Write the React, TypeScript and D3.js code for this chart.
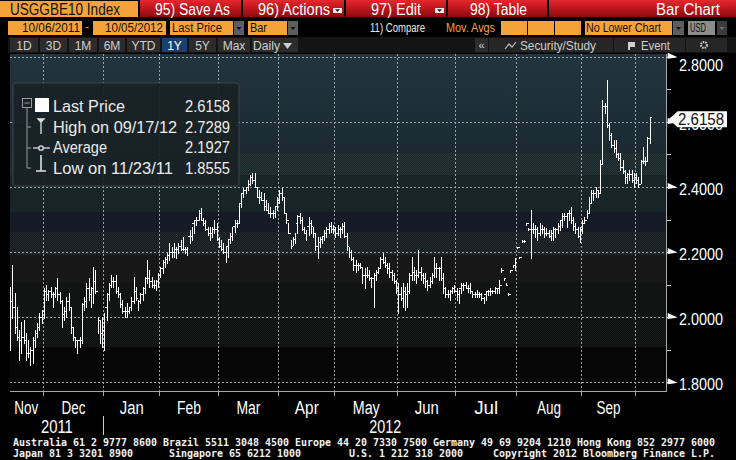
import React from "react";
import * as d3 from "d3";

// ---- data ----
const highs = [
  2.094, 2.162, 2.076, 2.033, 1.962, 1.987, 1.993, 1.953, 1.932, 1.910,
  1.941, 1.962, 1.984, 2.014, 2.024, 2.091, 2.100, 2.085, 2.094, 2.079,
  2.094, 2.122, 2.079, 2.054, 2.033, 2.064, 2.076, 2.033, 1.971, 1.941,
  1.932, 1.941, 2.045, 2.064, 2.107, 2.122, 2.094, 2.156, 2.147, 2.002,
  1.993, 2.002, 2.014, 2.076, 2.107, 2.131, 2.125, 2.131, 2.094, 2.076,
  2.054, 2.033, 2.045, 2.033, 2.064, 2.125, 2.094, 2.054, 2.076, 2.094,
  2.125, 2.177, 2.147, 2.125, 2.116, 2.116, 2.137, 2.156, 2.177, 2.186,
  2.199, 2.230, 2.217, 2.230, 2.217, 2.230, 2.239, 2.248, 2.217, 2.217,
  2.269, 2.279, 2.300, 2.309, 2.331, 2.337, 2.306, 2.300, 2.279, 2.279,
  2.279, 2.300, 2.291, 2.248, 2.239, 2.230, 2.217, 2.239, 2.260, 2.279,
  2.300, 2.300, 2.352, 2.383, 2.398, 2.402, 2.423, 2.438, 2.445, 2.445,
  2.402, 2.392, 2.386, 2.383, 2.362, 2.352, 2.340, 2.331, 2.340, 2.371,
  2.392, 2.398, 2.371, 2.322, 2.291, 2.239, 2.248, 2.260, 2.316, 2.322,
  2.309, 2.279, 2.269, 2.309, 2.300, 2.279, 2.260, 2.248, 2.248, 2.248,
  2.269, 2.279, 2.291, 2.294, 2.285, 2.279, 2.285, 2.279, 2.291, 2.294,
  2.260, 2.217, 2.208, 2.186, 2.177, 2.168, 2.168, 2.153, 2.153, 2.156,
  2.147, 2.125, 2.137, 2.147, 2.156, 2.186, 2.199, 2.186, 2.168, 2.168,
  2.147, 2.137, 2.116, 2.107, 2.094, 2.107, 2.094, 2.107, 2.137, 2.186,
  2.156, 2.147, 2.208, 2.156, 2.137, 2.137, 2.116, 2.125, 2.137, 2.186,
  2.168, 2.156, 2.186, 2.137, 2.094, 2.085, 2.085, 2.094, 2.100, 2.091,
  2.085, 2.107, 2.107, 2.110, 2.100, 2.107, 2.079, 2.079, 2.085, 2.079,
  2.076, 2.064, 2.079, 2.085, 2.091, 2.085, 2.094, 2.091, 2.116, 2.153,
  2.122, 2.107, 2.076, 2.147, 2.162, 2.183, 2.217, 2.186, 2.239, 2.239,
  2.291, 2.276, 2.331, 2.291, 2.285, 2.279, 2.291, 2.285, 2.279, 2.276,
  2.269, 2.269, 2.279, 2.276, 2.291, 2.300, 2.322, 2.322, 2.322, 2.331,
  2.340, 2.309, 2.291, 2.279, 2.279, 2.300, 2.309, 2.331, 2.371, 2.392,
  2.392, 2.402, 2.392, 2.484, 2.669, 2.660, 2.729, 2.598, 2.567, 2.546,
  2.546, 2.506, 2.506, 2.484, 2.454, 2.445, 2.454, 2.454, 2.445, 2.445,
  2.432, 2.484, 2.524, 2.494, 2.555, 2.617,
];
const lows = [
  1.901, 1.999, 1.953, 1.932, 1.870, 1.892, 1.922, 1.870, 1.879, 1.855,
  1.861, 1.910, 1.941, 1.962, 1.984, 1.999, 2.054, 2.054, 2.064, 2.033,
  2.064, 2.054, 2.045, 1.971, 1.993, 2.002, 2.024, 1.953, 1.932, 1.910,
  1.892, 1.910, 1.922, 2.024, 2.033, 2.054, 2.033, 2.045, 2.076, 1.953,
  1.922, 1.910, 1.901, 1.993, 2.054, 2.094, 2.094, 2.076, 2.064, 2.033,
  2.014, 2.002, 2.002, 2.014, 2.024, 2.045, 2.054, 2.024, 2.045, 2.054,
  2.076, 2.107, 2.094, 2.094, 2.091, 2.085, 2.094, 2.125, 2.137, 2.156,
  2.168, 2.177, 2.186, 2.186, 2.183, 2.199, 2.208, 2.208, 2.199, 2.193,
  2.230, 2.239, 2.260, 2.285, 2.300, 2.300, 2.285, 2.269, 2.254, 2.239,
  2.248, 2.260, 2.239, 2.217, 2.208, 2.199, 2.171, 2.186, 2.230, 2.239,
  2.263, 2.279, 2.291, 2.340, 2.371, 2.383, 2.392, 2.408, 2.414, 2.402,
  2.371, 2.352, 2.362, 2.331, 2.331, 2.322, 2.309, 2.306, 2.309, 2.331,
  2.352, 2.362, 2.322, 2.291, 2.260, 2.214, 2.223, 2.230, 2.260, 2.291,
  2.269, 2.260, 2.239, 2.254, 2.260, 2.248, 2.208, 2.183, 2.217, 2.230,
  2.239, 2.248, 2.260, 2.263, 2.260, 2.248, 2.254, 2.248, 2.260, 2.248,
  2.208, 2.186, 2.177, 2.147, 2.140, 2.147, 2.153, 2.107, 2.091, 2.125,
  2.116, 2.094, 2.033, 2.116, 2.137, 2.156, 2.168, 2.156, 2.137, 2.125,
  2.116, 2.107, 2.076, 2.014, 2.054, 2.033, 2.024, 2.033, 2.076, 2.116,
  2.116, 2.107, 2.125, 2.116, 2.107, 2.094, 2.085, 2.094, 2.107, 2.125,
  2.125, 2.116, 2.116, 2.076, 2.064, 2.064, 2.054, 2.076, 2.079, 2.054,
  2.045, 2.076, 2.085, 2.091, 2.079, 2.076, 2.064, 2.064, 2.064, 2.064,
  2.054, 2.045, 2.054, 2.070, 2.070, 2.076, 2.076, 2.076, 2.076, 2.140,
  2.116, 2.100, 2.070, 2.140, 2.156, 2.147, 2.214, 2.183, 2.233, 2.233,
  2.285, 2.269, 2.183, 2.260, 2.248, 2.239, 2.254, 2.260, 2.248, 2.254,
  2.248, 2.239, 2.239, 2.248, 2.260, 2.269, 2.279, 2.300, 2.279, 2.300,
  2.291, 2.269, 2.260, 2.248, 2.233, 2.260, 2.291, 2.306, 2.322, 2.352,
  2.362, 2.371, 2.371, 2.383, 2.475, 2.629, 2.586, 2.546, 2.524, 2.509,
  2.494, 2.484, 2.454, 2.445, 2.414, 2.414, 2.423, 2.417, 2.402, 2.414,
  2.402, 2.414, 2.475, 2.469, 2.484, 2.537,
];
const closes = [
  2.05, 2.03, 1.97, 1.94, 1.93, 1.94, 1.93, 1.89, 1.89, 1.90,
  1.93, 1.95, 1.97, 2.00, 2.02, 2.08, 2.07, 2.08, 2.07, 2.07,
  2.09, 2.07, 2.05, 2.01, 2.02, 2.05, 2.03, 1.97, 1.94, 1.93,
  1.93, 1.93, 2.04, 2.05, 2.09, 2.07, 2.09, 2.11, 2.08, 1.99,
  1.95, 1.96, 2.03, 2.07, 2.10, 2.11, 2.11, 2.08, 2.07, 2.04,
  2.02, 2.02, 2.02, 2.03, 2.05, 2.08, 2.06, 2.05, 2.07, 2.09,
  2.12, 2.12, 2.11, 2.10, 2.10, 2.11, 2.13, 2.15, 2.17, 2.18,
  2.19, 2.20, 2.20, 2.21, 2.21, 2.22, 2.21, 2.21, 2.21, 2.25,
  2.25, 2.29, 2.30, 2.30, 2.32, 2.30, 2.29, 2.27, 2.26, 2.26,
  2.27, 2.27, 2.24, 2.22, 2.21, 2.20, 2.22, 2.24, 2.25, 2.28,
  2.29, 2.29, 2.35, 2.38, 2.39, 2.40, 2.41, 2.43, 2.42, 2.40,
  2.37, 2.37, 2.36, 2.34, 2.33, 2.32, 2.32, 2.32, 2.34, 2.36,
  2.38, 2.37, 2.32, 2.30, 2.26, 2.22, 2.24, 2.29, 2.31, 2.30,
  2.27, 2.26, 2.28, 2.29, 2.28, 2.26, 2.22, 2.23, 2.24, 2.25,
  2.26, 2.27, 2.28, 2.27, 2.27, 2.26, 2.27, 2.27, 2.28, 2.25,
  2.22, 2.20, 2.18, 2.16, 2.16, 2.16, 2.155, 2.13, 2.13, 2.13,
  2.12, 2.12, 2.13, 2.14, 2.15, 2.18, 2.17, 2.16, 2.15, 2.14,
  2.13, 2.11, 2.09, 2.07, 2.06, 2.08, 2.07, 2.08, 2.13, 2.14,
  2.13, 2.13, 2.14, 2.13, 2.12, 2.11, 2.10, 2.11, 2.13, 2.15,
  2.15, 2.15, 2.12, 2.09, 2.07, 2.07, 2.08, 2.09, 2.08, 2.07,
  2.09, 2.10, 2.10, 2.09, 2.09, 2.08, 2.07, 2.07, 2.07, 2.07,
  2.06, 2.07, 2.08, 2.08, 2.08, 2.08, 2.09, 2.09, 2.10, 2.145,
  2.12, 2.10, 2.072, 2.145, 2.16, 2.17, 2.215, 2.185, 2.235, 2.235,
  2.288, 2.272, 2.27, 2.27, 2.27, 2.26, 2.27, 2.27, 2.26, 2.26,
  2.25, 2.26, 2.27, 2.27, 2.28, 2.30, 2.31, 2.31, 2.32, 2.32,
  2.30, 2.28, 2.27, 2.25, 2.27, 2.29, 2.30, 2.32, 2.35, 2.38,
  2.38, 2.39, 2.38, 2.47, 2.65, 2.65, 2.59, 2.56, 2.53, 2.52,
  2.50, 2.49, 2.46, 2.45, 2.43, 2.44, 2.44, 2.42, 2.43, 2.42,
  2.41, 2.48, 2.48, 2.48, 2.55, 2.6158,
];
// first bar index of each new month (Dec .. Oct)
const monthBreaks = [15, 42, 67, 93, 120, 145, 173, 199, 226, 255, 279];
const monthLabels = ["Nov", "Dec", "Jan", "Feb", "Mar", "Apr", "May", "Jun", "Jul", "Aug", "Sep"];
const yearLabels = ["2011", "2012"];
const yearBreak = 42;
const majorTicks = [1.8, 2.0, 2.2, 2.4, 2.6, 2.8];
const minorTicks = [1.9, 2.1, 2.3, 2.5, 2.7];
const lastPrice = 2.6158;
const legendRows = [
  { label: "Last Price", value: "2.6158" },
  { label: "High on 09/17/12", value: "2.7289" },
  { label: "Average", value: "2.1927" },
  { label: "Low on 11/23/11", value: "1.8555" },
];
const footer1 =
  "Australia 61 2 9777 8600 Brazil 5511 3048 4500 Europe 44 20 7330 7500 Germany 49 69 9204 1210 Hong Kong 852 2977 6000";
const footer2 =
  "Japan 81 3 3201 8900      Singapore 65 6212 1000        U.S. 1 212 318 2000     Copyright 2012 Bloomberg Finance L.P.";

// ---- layout ----
const W = 736, H = 460;
const PL = 10, PR = 666.7, PT = 54, PB = 391.7;
const SANS = "'Liberation Sans', Arial, sans-serif";
const ORANGE = "#f5a23a";

function T(p: any) {
  const { x, y, w, size = 14, fill = "#fff", anchor = "start", family = SANS, children, weight } = p;
  return (
    <text
      x={x}
      y={y}
      fontSize={size}
      fill={fill}
      textAnchor={anchor}
      fontFamily={family}
      fontWeight={weight}
      textLength={w}
      lengthAdjust={w ? "spacingAndGlyphs" : undefined}
      style={{ whiteSpace: "pre" }}
    >
      {children}
    </text>
  );
}

function DropArrow({ x, y, bg, fg }: any) {
  return (
    <g>
      <rect x={x} y={y} width={9} height={5} fill={bg} />
      <path d={`M${x + 2},${y + 1.2} L${x + 7},${y + 1.2} L${x + 4.5},${y + 4}Z`} fill={fg} />
    </g>
  );
}

export default function App() {
  const n = highs.length;
  const x = d3.scaleLinear().domain([0, n - 1]).range([10.7, 650]);
  const y = d3.scaleLinear().domain([1.8, 2.8]).range([382.7, 57.3]);
  const bx = (i: number) => x(i - 0.5);

  const bounds = [PL - 0.5, ...monthBreaks.map(bx)];
  const yb = bx(yearBreak);

  const bands = [
    { y0: 153, y1: 175, fill: "url(#dith1)" },
    { y0: 175, y1: 212, fill: "#172528" },
    { y0: 212, y1: 232, fill: "#141b25" },
    { y0: 232, y1: 255, fill: "url(#dith2)" },
    { y0: 255, y1: 283, fill: "#171717" },
    { y0: 283, y1: 313, fill: "#121414" },
    { y0: 313, y1: 347, fill: "url(#dith3)" },
    { y0: 347, y1: PB, fill: "#060606" },
  ];

  const ly = y(lastPrice) + 2;

  const row3 = [
    { t: "1D", x0: 10, x1: 38 },
    { t: "3D", x0: 40, x1: 67 },
    { t: "1M", x0: 69, x1: 97 },
    { t: "6M", x0: 99, x1: 125 },
    { t: "YTD", x0: 127, x1: 160 },
    { t: "1Y", x0: 162, x1: 187, on: true },
    { t: "5Y", x0: 189, x1: 216 },
    { t: "Max", x0: 218, x1: 250 },
  ];

  return (
    <div style={{ position: "absolute", left: 0, top: 0, width: W, height: H }}>
      <svg width={W} height={H} style={{ display: "block" }}>
        <defs>
          <linearGradient id="red" x1="0" y1="0" x2="0" y2="1">
            <stop offset="0" stopColor="#e4282e" />
            <stop offset="0.55" stopColor="#b8141b" />
            <stop offset="1" stopColor="#8a0a0f" />
          </linearGradient>
          <linearGradient id="top" x1="0" y1="0" x2="0" y2="1">
            <stop offset="0" stopColor="#23343e" />
            <stop offset="1" stopColor="#1b2a31" />
          </linearGradient>
          <pattern id="dith1" width="2" height="2" patternUnits="userSpaceOnUse">
            <rect width="2" height="2" fill="#1a2729" />
            <rect width="1" height="1" fill="#26353a" />
            <rect x="1" y="1" width="1" height="1" fill="#26353a" />
          </pattern>
          <pattern id="dith2" width="2" height="2" patternUnits="userSpaceOnUse">
            <rect width="2" height="2" fill="#161c1d" />
            <rect width="1" height="1" fill="#222a2b" />
            <rect x="1" y="1" width="1" height="1" fill="#222a2b" />
          </pattern>
          <pattern id="dith3" width="2" height="2" patternUnits="userSpaceOnUse">
            <rect width="2" height="2" fill="#0c0d0d" />
            <rect width="1" height="1" fill="#1a1b1b" />
            <rect x="1" y="1" width="1" height="1" fill="#1a1b1b" />
          </pattern>
        </defs>

        <rect width={W} height={H} fill="#000" />

        {/* ---------- header row 1 ---------- */}
        <rect x={0} y={1} width={138} height={16} fill={ORANGE} />
        <T x={10} y={15} w={110} size={16} fill="#111">USGGBE10 Index</T>
        <rect x={140} y={0} width={101} height={17} fill="url(#red)" />
        <T x={155} y={15} w={75} size={16}>95) Save As</T>
        <rect x={243} y={0} width={101} height={17} fill="url(#red)" />
        <T x={258} y={15} w={72} size={16}>96) Actions</T>
        <DropArrow x={333} y={8} bg="#f0f0f0" fg="#222" />
        <rect x={346} y={0} width={100} height={17} fill="url(#red)" />
        <T x={371} y={15} w={50} size={16}>97) Edit</T>
        <DropArrow x={435} y={8} bg="#f0f0f0" fg="#222" />
        <rect x={448} y={0} width={99} height={17} fill="url(#red)" />
        <T x={470} y={15} w={57} size={16}>98) Table</T>
        <rect x={549} y={0} width={187} height={17} fill="url(#red)" />
        <T x={720} y={15} w={64} size={16} anchor="end">Bar Chart</T>

        {/* ---------- header row 2 ---------- */}
        <rect x={8} y={21} width={74} height={14} fill={ORANGE} />
        <T x={22} y={32} w={58} size={12} fill="#111">10/06/2011</T>
        <T x={85} y={31} size={12} fill={ORANGE}>-</T>
        <rect x={93} y={21} width={73} height={14} fill={ORANGE} />
        <T x={105} y={32} w={58} size={12} fill="#111">10/05/2012</T>
        <rect x={170} y={21} width={63} height={14} fill={ORANGE} />
        <T x={172} y={32} w={50} size={12} fill="#111">Last Price</T>
        <rect x={234} y={21} width={10} height={14} fill="#5d5d5d" />
        <path d="M236.5,27 L241.5,27 L239,30Z" fill="#111" />
        <rect x={248} y={21} width={39} height={14} fill={ORANGE} />
        <T x={250} y={32} w={17} size={12} fill="#111">Bar</T>
        <rect x={288} y={21} width={10} height={14} fill="#5d5d5d" />
        <path d="M290.5,27 L295.5,27 L293,30Z" fill="#111" />
        <T x={370} y={32} w={55} size={12} fill="#e8e8e8">11) Compare</T>
        <T x={446} y={32} w={49} size={12} fill={ORANGE}>Mov. Avgs</T>
        <rect x={501} y={21} width={26} height={14} fill={ORANGE} />
        <rect x={528} y={21} width={26} height={14} fill={ORANGE} />
        <rect x={555} y={21} width={26} height={14} fill={ORANGE} />
        <rect x={585} y={21} width={87} height={14} fill={ORANGE} />
        <T x={586} y={32} w={75} size={12} fill="#111">No Lower Chart</T>
        <rect x={673} y={21} width={11} height={14} fill="#5d5d5d" />
        <path d="M676,27 L681,27 L678.5,30Z" fill="#111" />
        <rect x={688} y={21} width={27} height={14} fill="#8c8c8c" />
        <T x={690} y={32} w={16} size={12} fill="#111">USD</T>
        <rect x={717} y={21} width={10} height={14} fill="#3c3c3c" />
        <path d="M719.5,27 L724.5,27 L722,30Z" fill="#777" />

        {/* ---------- header row 3 ---------- */}
        <rect x={8} y={37} width={728} height={16} fill="#141414" />
        {row3.map((b) => (
          <g key={b.t}>
            <rect x={b.x0} y={38} width={b.x1 - b.x0} height={14} fill={b.on ? "#1d3f6b" : "#2c2c2c"} />
            <T x={(b.x0 + b.x1) / 2} y={49.5} size={12} anchor="middle" fill={b.on ? "#fff" : "#cfcfcf"}>
              {b.t}
            </T>
          </g>
        ))}
        <rect x={252} y={38} width={46} height={14} fill="#2c2c2c" />
        <T x={253} y={49.5} w={27} size={12} fill="#cfcfcf">Daily</T>
        <path d="M283,43 L292,43 L287.5,49Z" fill="#cfcfcf" />
        <rect x={475} y={38} width={13} height={14} fill="#2c2c2c" />
        <T x={481.5} y={49} size={11} anchor="middle" fill="#cfcfcf">«</T>
        <rect x={489} y={38} width={124} height={14} fill="#262626" />
        <path d="M505,49 L509,44 L512,47 L516,42" stroke="#bbb" strokeWidth={1.2} fill="none" />
        <T x={520} y={49.5} w={76} size={12} fill="#cfcfcf">Security/Study</T>
        <rect x={614} y={38} width={71} height={14} fill="#262626" />
        <path d="M628,42 L635,42 L635,47 L630,47 L630,50 L628,50Z" fill="#cfcfcf" />
        <T x={641} y={49.5} w={29} size={12} fill="#cfcfcf">Event</T>
        <rect x={686} y={38} width={41} height={14} fill="#262626" />
        <circle cx={704} cy={45} r={3} fill="none" stroke="#cfcfcf" strokeWidth={2} strokeDasharray="1.5 1" />

        {/* ---------- plot background ---------- */}
        <rect x={PL} y={PT} width={PR - PL} height={153 - PT} fill="url(#top)" />
        {bands.map((b, i) => (
          <rect key={i} x={PL} y={b.y0} width={PR - PL} height={b.y1 - b.y0} fill={b.fill} />
        ))}

        {/* grid */}
        {majorTicks.map((t) => (
          <line key={t} x1={PL} x2={PR} y1={y(t)} y2={y(t)} stroke="#9aa2a6" strokeWidth={1} strokeDasharray="2 2" shapeRendering="crispEdges" />
        ))}
        {monthBreaks.map((m) => (
          <line key={m} x1={bx(m)} x2={bx(m)} y1={PT} y2={PB} stroke="#9aa2a6" strokeWidth={1} strokeDasharray="2 2" shapeRendering="crispEdges" />
        ))}

        {/* axes */}
        <line x1={PR} x2={PR} y1={PT} y2={PB} stroke="#a8a8a8" strokeWidth={1} shapeRendering="crispEdges" />
        <line x1={PL} x2={PR} y1={PB} y2={PB} stroke="#a8a8a8" strokeWidth={1} shapeRendering="crispEdges" />
        {monthBreaks.map((m) => (
          <line key={"t" + m} x1={bx(m)} x2={bx(m)} y1={PB} y2={PB + 4} stroke="#a8a8a8" strokeWidth={1} shapeRendering="crispEdges" />
        ))}
        {minorTicks.map((t) => (
          <line key={t} x1={PR} x2={PR + 4} y1={y(t)} y2={y(t)} stroke="#d0d0d0" strokeWidth={1} shapeRendering="crispEdges" />
        ))}
        {majorTicks.map((t) => (
          <g key={"l" + t}>
            <path d={`M${PR + 1},${y(t) - 4.5} L${PR + 11},${y(t)} L${PR + 1},${y(t) + 1.5}Z`} fill="#fff" />
            <line x1={PR} x2={PR + 8} y1={y(t)} y2={y(t)} stroke="#fff" strokeWidth={1} />
            <T x={679} y={t === 2.8 ? y(t) + 14 : y(t) + 7.5} w={44} size={16} fill="#fff">
              {t.toFixed(4)}
            </T>
          </g>
        ))}

        {/* month / year labels */}
        {monthLabels.map((m, i) => (
          <T key={m} x={(bounds[i] + bounds[i + 1]) / 2} y={413.5} size={18} anchor="middle" fill="#fff" w={m === "May" ? 27 : 24}>
            {m}
          </T>
        ))}
        <T x={(PL + yb) / 2} y={433} w={32} size={18} anchor="middle" fill="#fff">{yearLabels[0]}</T>
        <line x1={yb} x2={yb} y1={416} y2={435} stroke="#cfcfcf" strokeWidth={1} shapeRendering="crispEdges" />
        <T x={(yb + PR) / 2} y={433} w={32} size={18} anchor="middle" fill="#fff">{yearLabels[1]}</T>

        {/* bars */}
        <g stroke="#fff" strokeWidth={1} shapeRendering="crispEdges">
          {highs.map((h, i) => (
            <g key={i}>
              <line x1={x(i)} x2={x(i)} y1={y(h)} y2={y(lows[i]) + 1} />
              <line x1={x(i)} x2={x(i) + 2} y1={y(closes[i])} y2={y(closes[i])} />
            </g>
          ))}
        </g>

        {/* last price tag */}
        <path
          d={`M${PR + 2},${ly} L${PR + 11},${ly - 8} L727,${ly - 8} L727,${ly + 8} L${PR + 11},${ly + 8}Z`}
          fill="#fff"
        />
        <T x={678} y={ly + 6} w={46} size={16} fill="#111">2.6158</T>

        {/* legend */}
        <rect x={13} y={83} width={226} height={103} rx={3} fill="#192226" fillOpacity={0.93} stroke="#3a454a" />
        <rect x={22.5} y={98.5} width={9} height={9} fill="none" stroke="#9a9a9a" />
        <line x1={24.5} x2={29.5} y1={103} y2={103} stroke="#9a9a9a" />
        <path d="M27,108 L27,168 L31,168 M27,127 L31,127 M27,148 L31,148" stroke="#9a9a9a" fill="none" />
        <rect x={35} y={98} width={14} height={14} fill="#fff" />
        <path d="M38,119 L44,119 L41,122Z M41,119 L41,134" stroke="#e0e0e0" fill="#e0e0e0" strokeWidth={1.3} />
        <path d="M33,148 L50,148" stroke="#e0e0e0" strokeWidth={1.3} />
        <circle cx={41} cy={148} r={2.2} fill="#192226" stroke="#e0e0e0" strokeWidth={1.3} />
        <path d="M41,155 L41,171 M36,171 L46,171" stroke="#e0e0e0" strokeWidth={1.6} />
        {legendRows.map((r, i) => (
          <g key={r.label}>
            <T x={53} y={112 + i * 20.7} size={16} fill="#eaeaea" w={[72, 124, 54, 120][i]}>
              {r.label}
            </T>
            <T x={230} y={112 + i * 20.7} size={16} fill="#eaeaea" anchor="end" w={45}>
              {r.value}
            </T>
          </g>
        ))}

        {/* footer */}
        <T x={13} y={446} w={702} size={10} weight="bold" family="'DejaVu Sans Mono', monospace" fill="#f2f2f2">{footer1}</T>
        <T x={13} y={456.5} w={702} size={10} weight="bold" family="'DejaVu Sans Mono', monospace" fill="#f2f2f2">{footer2}</T>
      </svg>
    </div>
  );
}
